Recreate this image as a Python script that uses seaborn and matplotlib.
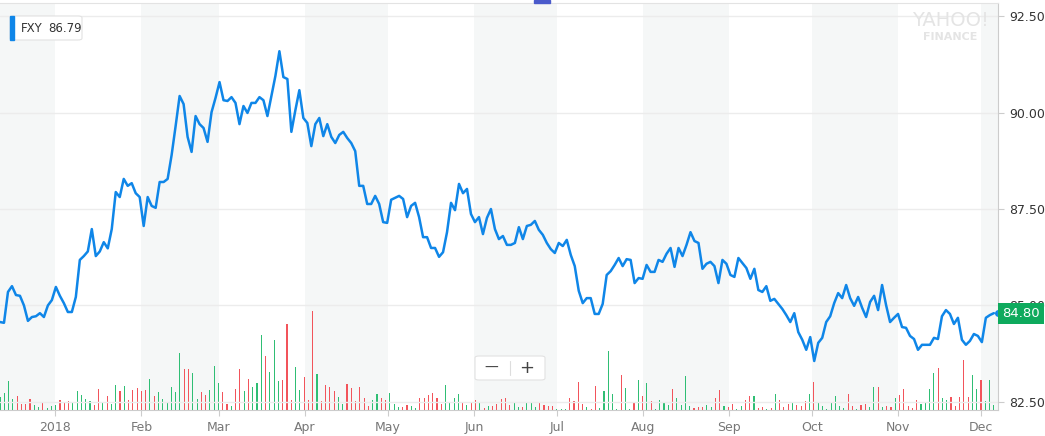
import numpy as np
import pandas as pd
import matplotlib
matplotlib.use("Agg")
import matplotlib.pyplot as plt
import matplotlib.dates as mdates
from matplotlib.patches import FancyBboxPatch, Rectangle
import seaborn as sns

TICKER = "FXY"
LAST_LABEL = "86.79"
CURRENT = 84.80
START, END = "2017-12-12", "2018-12-07"

# daily closes
prices = [
    84.57, 84.55, 85.35, 85.50, 85.27, 85.25, 85.00, 84.60, 84.70, 84.72, 84.80, 84.70, 85.00, 85.14, 85.48, 85.25,
    85.06, 84.83, 84.83, 85.22, 86.18, 86.28, 86.40, 86.98, 86.28, 86.40, 86.64, 86.48, 86.98, 87.94, 87.81, 88.28,
    88.10, 88.17, 87.91, 87.81, 87.06, 87.81, 87.58, 87.53, 88.20, 88.20, 88.28, 88.90, 89.65, 90.43, 90.22, 89.37,
    88.98, 89.91, 89.70, 89.60, 89.24, 90.01, 90.38, 90.79, 90.32, 90.30, 90.40, 90.25, 89.70, 90.17, 89.99, 90.25,
    90.25, 90.40, 90.32, 89.91, 90.43, 90.95, 91.59, 90.92, 90.87, 89.50, 90.06, 90.58, 89.86, 89.73, 89.13, 89.70,
    89.86, 89.39, 89.70, 89.37, 89.21, 89.42, 89.50, 89.34, 89.21, 89.00, 88.10, 88.10, 87.63, 87.63, 87.84, 87.63,
    87.16, 87.14, 87.74, 87.79, 87.84, 87.76, 87.29, 87.58, 87.66, 87.29, 86.77, 86.77, 86.49, 86.49, 86.26, 86.38,
    86.90, 87.66, 87.47, 88.15, 87.91, 88.02, 87.37, 87.16, 87.29, 86.85, 87.27, 87.50, 86.98, 86.72, 86.80, 86.57,
    86.57, 86.62, 87.03, 86.72, 87.06, 87.09, 87.19, 86.96, 86.83, 86.62, 86.46, 86.36, 86.62, 86.54, 86.70, 86.31,
    86.02, 85.38, 85.06, 85.19, 85.19, 84.78, 84.78, 85.04, 85.79, 85.89, 86.05, 86.23, 86.02, 86.20, 86.18, 85.58,
    85.71, 85.69, 86.05, 85.87, 85.87, 86.18, 86.13, 86.34, 86.49, 86.00, 86.49, 86.28, 86.57, 86.90, 86.67, 86.62,
    85.95, 86.08, 86.13, 86.02, 85.58, 86.18, 86.08, 85.79, 85.74, 86.23, 86.10, 85.97, 85.69, 85.95, 85.40, 85.35,
    85.50, 85.12, 85.17, 85.04, 84.91, 84.75, 84.57, 84.80, 84.31, 84.11, 83.85, 84.18, 83.56, 84.03, 84.16, 84.57,
    84.72, 85.06, 85.32, 85.19, 85.53, 85.19, 84.99, 85.22, 84.94, 84.70, 85.09, 85.25, 84.88, 85.53, 85.01, 84.57,
    84.68, 84.78, 84.44, 84.42, 84.21, 84.13, 83.85, 83.98, 83.98, 83.98, 84.16, 84.13, 84.72, 84.88, 84.78, 84.52,
    84.68, 84.11, 83.98, 84.08, 84.26, 84.21, 84.05, 84.68, 84.75, 84.80,
]

# volume bars (relative units)
volume = [
    13, 17, 29, 11, 14, 6, 6, 11, 5, 3, 7, 2, 4, 5, 10, 8, 9, 7, 19, 15, 11, 9, 5, 21, 8, 14, 6, 25, 19, 24,
    10, 20, 22, 19, 20, 31, 14, 18, 11, 8, 23, 18, 57, 41, 41, 37, 11, 18, 15, 20, 44, 27, 18, 6, 4, 21, 41, 19,
    31, 23, 27, 75, 54, 38, 70, 29, 30, 86, 10, 43, 20, 33, 10, 99, 36, 9, 25, 23, 19, 13, 6, 26, 22, 9, 23, 12,
    4, 10, 16, 12, 10, 17, 6, 3, 3, 5, 4, 2, 12, 12, 15, 17, 12, 6, 25, 8, 12, 16, 8, 5, 8, 10, 8, 2, 4, 4, 6, 11,
    12, 5, 7, 3, 3, 7, 8, 3, 7, 5, 4, 4, 1, 1, 1, 12, 9, 28, 6, 3, 1, 24, 2, 19, 59, 16, 1, 35, 22, 1, 7, 30, 14,
    27, 9, 1, 10, 8, 5, 21, 12, 5, 34, 4, 2, 3, 3, 5, 3, 12, 20, 4, 3, 6, 1, 4, 10, 14, 14, 2, 3, 1, 2, 16, 10, 3,
    6, 7, 5, 4, 9, 16, 28, 8, 4, 1, 7, 14, 4, 2, 16, 4, 1, 5, 6, 3, 23, 23, 3, 4, 3, 12, 15, 21, 4, 2, 10, 6, 8,
    21, 37, 42, 12, 10, 13, 4, 13, 50, 13, 35, 21, 30, 9, 30, 5,
]

price_ticks = [82.5, 85.0, 87.5, 90.0, 92.5]
month_starts = ["2018-01-01", "2018-02-01", "2018-03-01", "2018-04-01", "2018-05-01", "2018-06-01",
                "2018-07-01", "2018-08-01", "2018-09-01", "2018-10-01", "2018-11-01", "2018-12-01"]
month_labels = ["2018", "Feb", "Mar", "Apr", "May", "Jun", "Jul", "Aug", "Sep", "Oct", "Nov", "Dec"]
shaded = [("2017-12-01", "2018-01-01"), ("2018-02-01", "2018-03-01"), ("2018-04-01", "2018-05-01"),
          ("2018-06-01", "2018-07-01"), ("2018-08-01", "2018-09-01"), ("2018-10-01", "2018-11-01"),
          ("2018-12-01", "2019-01-01")]

t0, t1 = mdates.datestr2num(START), mdates.datestr2num(END)
price_x = np.linspace(t0, t1 - 1.5, len(prices))
vol_x = np.linspace(t0, t1 - 1.5, len(volume))
df = pd.DataFrame({"date": mdates.num2date(price_x), "close": prices})

# bar colour from price change
chg = np.diff(np.concatenate([[prices[0]], prices]))
vol_chg = np.interp(vol_x, price_x, chg)
vol_colors = ["#2fbe74" if c >= 0 else "#f2545b" for c in vol_chg]

sns.set_style("white")
fig = plt.figure(figsize=(10.45, 4.36), dpi=100)
ax = fig.add_axes([0, 26 / 436, 998 / 1045, 407 / 436])
vax = ax.twinx()

for a, b in shaded:
    vax.axvspan(mdates.datestr2num(a), mdates.datestr2num(b), color="#f5f7f7", zorder=0, lw=0)
for v in price_ticks:
    ax.axhline(v, color="#ececec", lw=1, zorder=1)

vax.bar(vol_x, volume, width=0.4, color=vol_colors, zorder=2, lw=0)
vax.set_ylim(0, 407)
vax.set_yticks([])
vax.set_zorder(1)
ax.set_zorder(2)
ax.patch.set_visible(False)

sns.lineplot(data=df, x="date", y="close", ax=ax, color="#0f86e8", lw=1.8, zorder=3)
ax.set_xlim(t0, t1)
ax.set_ylim(82.29, 92.84)
ax.set_xlabel("")
ax.set_ylabel("")

ax.yaxis.tick_right()
ax.set_yticks(price_ticks)
ax.set_yticklabels([f"{v:.2f}" for v in price_ticks])
ax.set_xticks([mdates.datestr2num(d) for d in month_starts])
ax.set_xticklabels(month_labels)
ax.tick_params(axis="y", colors="#333333", labelsize=9, length=4, pad=4, right=True, color="#cccccc")
ax.tick_params(axis="x", colors="#777777", labelsize=9, length=4, pad=4, bottom=True, color="#cccccc")
for a in (ax, vax):
    a.spines["left"].set_visible(False)
for s in ["right", "bottom", "top"]:
    ax.spines[s].set_color("#cccccc")
    vax.spines[s].set_visible(False)
ax.spines["top"].set_color("#e3e3e3")

# legend chip
fig.add_artist(FancyBboxPatch((10 / 1045, 1 - 40 / 436), 72 / 1045, 24 / 436,
                              boxstyle="round,pad=0,rounding_size=0.004", transform=fig.transFigure,
                              fc="white", ec="#e2e2e2", lw=0.8, zorder=10))
fig.add_artist(Rectangle((10 / 1045, 1 - 40 / 436), 4 / 1045, 24 / 436,
                         transform=fig.transFigure, color="#0f86e8", zorder=11))
fig.text(21 / 1045, 1 - 28 / 436, TICKER, fontsize=8.5, color="#333333", va="center", zorder=12)
fig.text(48 / 1045, 1 - 28 / 436, LAST_LABEL, fontsize=8.5, color="#333333", va="center", zorder=12)

# watermark
fig.text(950 / 1045, 1 - 21 / 436, "YAHOO!", fontsize=14, color="#e4e4e4", ha="center", va="center")
fig.text(950 / 1045, 1 - 37 / 436, "FINANCE", fontsize=8, color="#e4e4e4", ha="center", va="center",
         fontweight="bold")

# current price tag
ax.annotate(f"{CURRENT:.2f}", xy=(1.0, CURRENT), xycoords=("axes fraction", "data"),
            xytext=(3, 0), textcoords="offset points", fontsize=9.5, color="white", va="center",
            bbox=dict(boxstyle="square,pad=0.3", fc="#0eaa5d", ec="none"), zorder=20)
ax.plot([1.0], [CURRENT], "o", ms=4, color="#0f86e8", transform=ax.get_yaxis_transform(), clip_on=False)

# zoom control
fig.add_artist(FancyBboxPatch((475 / 1045, 1 - 380 / 436), 70 / 1045, 24 / 436,
                              boxstyle="round,pad=0,rounding_size=0.004", transform=fig.transFigure,
                              fc="white", ec="#e2e2e2", lw=0.8, zorder=10))
fig.text(491 / 1045, 1 - 368 / 436, "\u2014", fontsize=10, color="#444444", ha="center", va="center", zorder=12)
fig.text(527 / 1045, 1 - 368 / 436, "+", fontsize=13, color="#444444", ha="center", va="center", zorder=12)
fig.add_artist(plt.Line2D([510 / 1045, 510 / 1045], [1 - 375 / 436, 1 - 361 / 436], color="#dddddd",
                          lw=0.8, zorder=12))
fig.add_artist(Rectangle((534 / 1045, 1 - 3 / 436), 16 / 1045, 3 / 436,
                         transform=fig.transFigure, color="#4a5acb", zorder=12))

fig.savefig("out.png", dpi=100)
